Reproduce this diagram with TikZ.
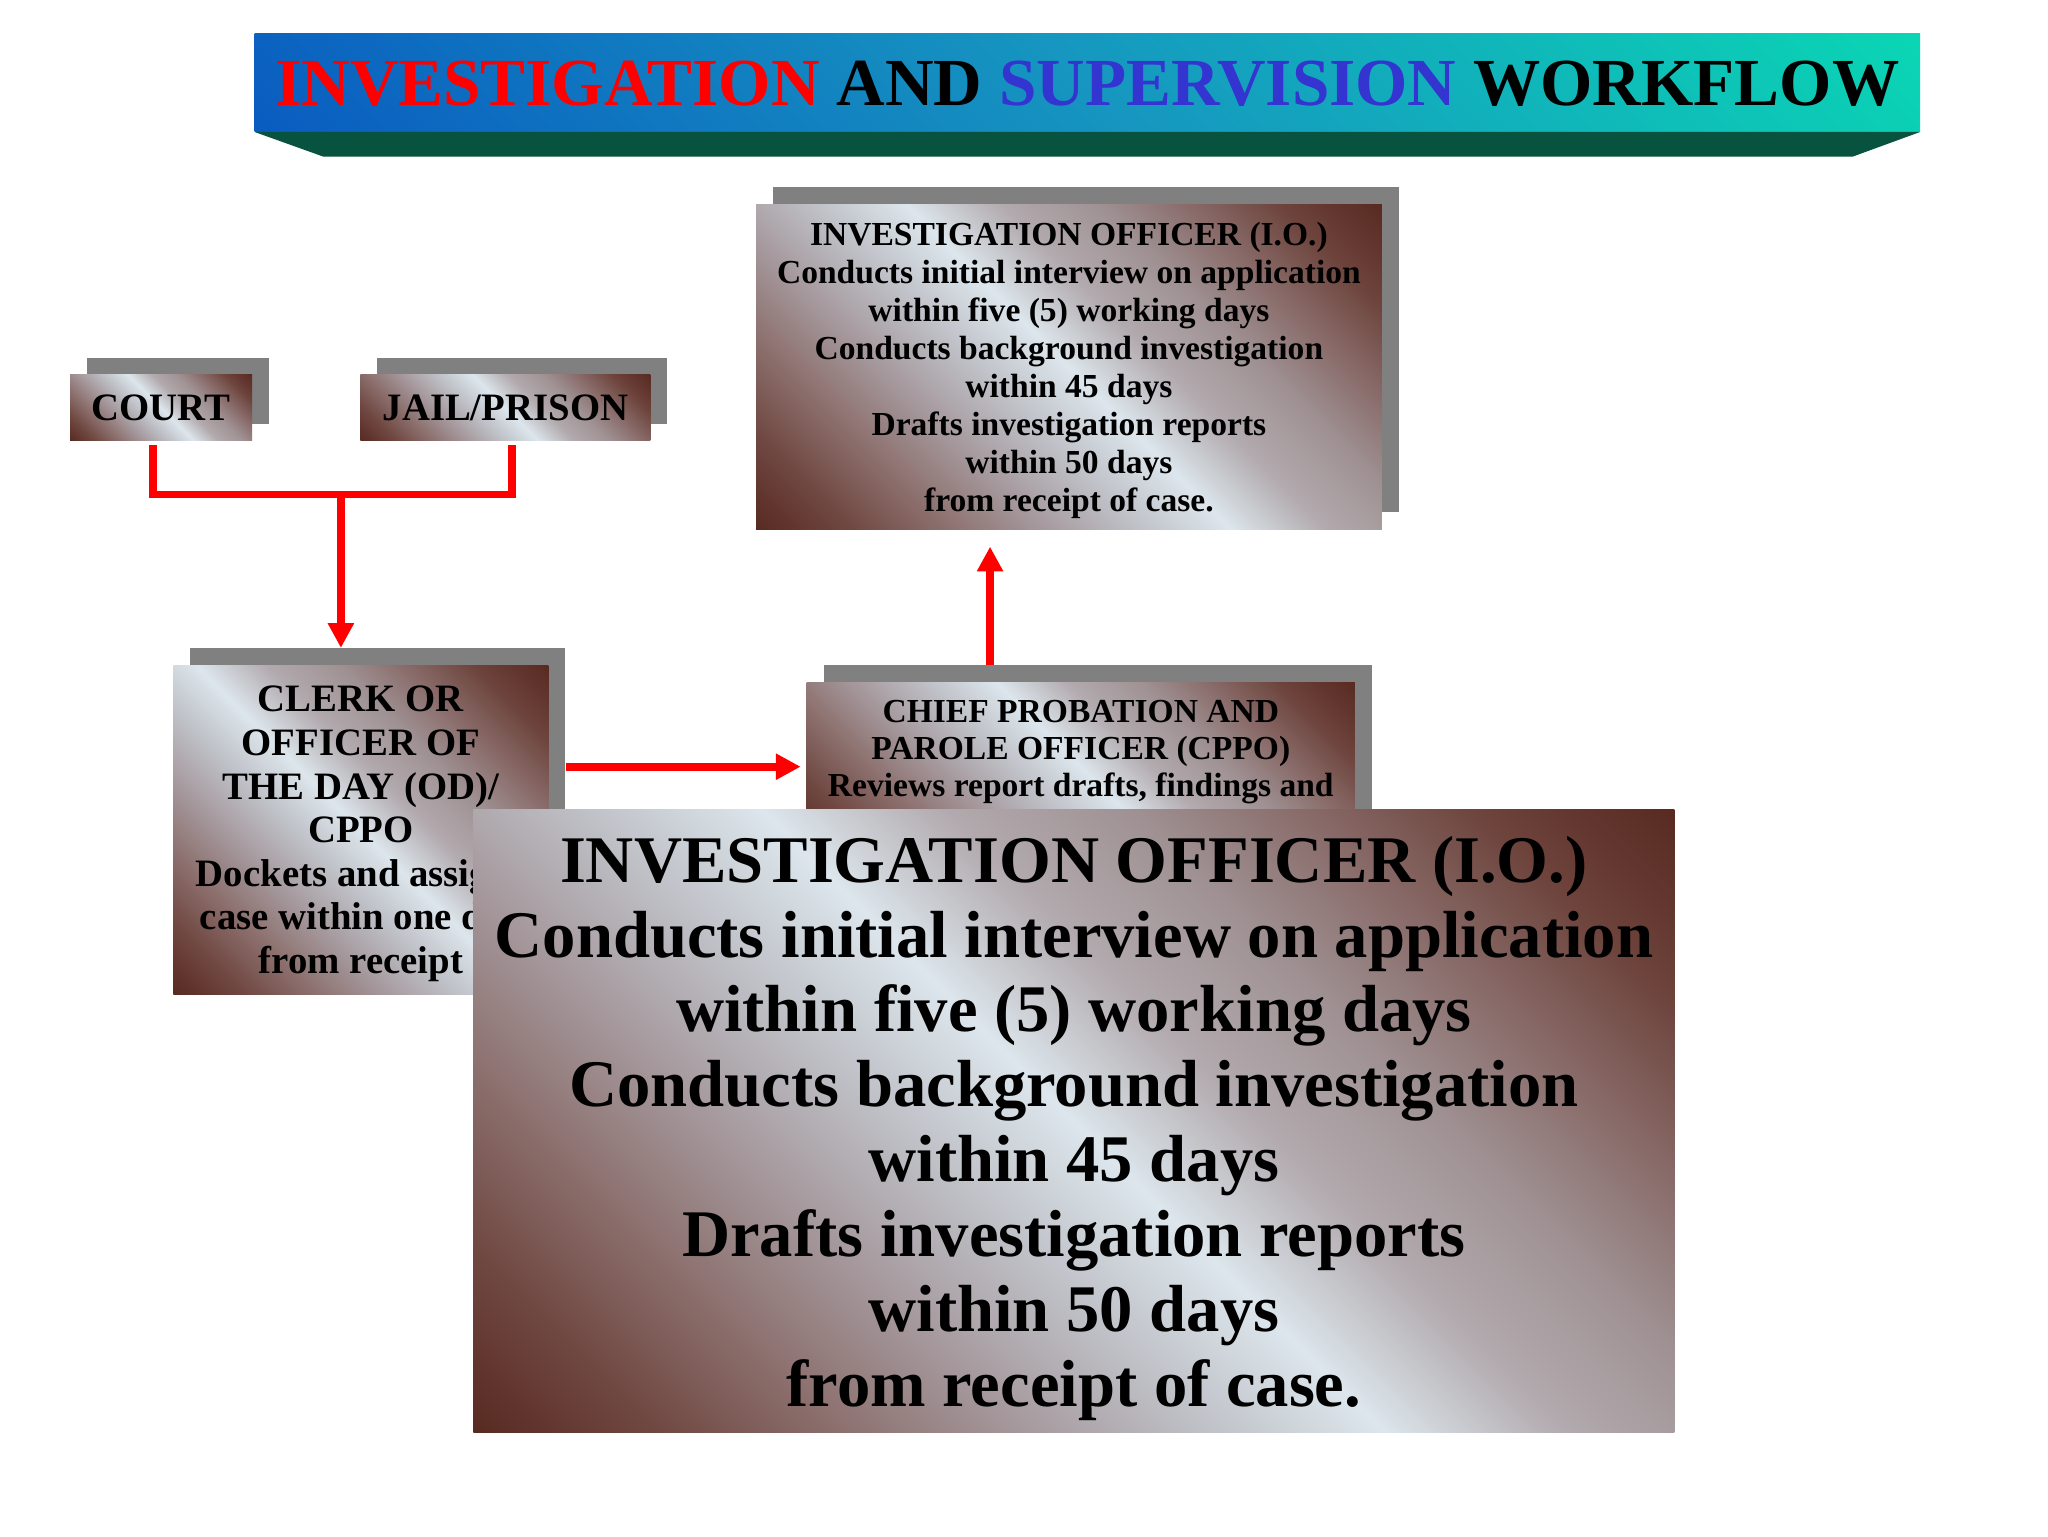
\documentclass[tikz,border=0pt]{standalone}
\usepackage{fontspec}
\setmainfont{Liberation Serif}
\usepackage{xcolor}
\usepackage{tikz}
\usetikzlibrary{arrows.meta}
\usetikzlibrary{shadows,positioning}

\definecolor{boxshadow}{RGB}{128,128,128}
\definecolor{metaldark}{RGB}{88,42,34}
\definecolor{metalbrown}{RGB}{112,72,66}
\definecolor{metalrose}{RGB}{140,112,110}
\definecolor{metalmauve}{RGB}{165,152,156}
\definecolor{metalgrey}{RGB}{190,192,198}
\definecolor{metallight}{RGB}{220,230,236}
\definecolor{metalpale}{RGB}{178,170,174}
\definecolor{metaldusk}{RGB}{160,146,148}
\definecolor{metalclay}{RGB}{136,106,104}
\definecolor{metalrust}{RGB}{108,66,58}
\definecolor{seablue}{RGB}{10,92,192}
\definecolor{seamid}{RGB}{22,150,192}
\definecolor{seateal}{RGB}{10,214,180}
\definecolor{seabase}{RGB}{8,82,64}
\definecolor{wordred}{RGB}{255,0,0}
\definecolor{wordblue}{RGB}{52,52,208}

\pgfdeclarehorizontalshading{metal}{100bp}{color(0bp)=(metaldark); color(14.6bp)=(metaldark); color(21.7bp)=(metalbrown); color(28.8bp)=(metalrose); color(35.8bp)=(metalmauve); color(42.9bp)=(metalgrey); color(50bp)=(metallight); color(57.1bp)=(metalpale); color(64.2bp)=(metaldusk); color(71.2bp)=(metalclay); color(78.3bp)=(metalrust); color(85.4bp)=(metaldark); color(100bp)=(metaldark)}
\pgfdeclarehorizontalshading{sea}{100bp}{color(0bp)=(seablue); color(14.6bp)=(seablue); color(50bp)=(seamid); color(85.4bp)=(seateal); color(100bp)=(seateal)}

\newcommand{\wftitlefont}{\bfseries\fontsize{51.5pt}{60pt}\selectfont}
\newcommand{\wfplatefont}{\bfseries\fontsize{29.7pt}{33.4pt}\selectfont}
\newcommand{\wfnotefont}{\bfseries\fontsize{25.7pt}{29pt}\selectfont}
\newcommand{\wfcppofont}{\bfseries\fontsize{25.7pt}{28.1pt}\selectfont}
\newcommand{\wfbigfont}{\bfseries\fontsize{51pt}{57.4pt}\selectfont}

\tikzset{
  plate/.style={shade, shading=metal, shading angle=45, inner sep=0pt,
    align=center, text depth=0pt},
  plateshadow/.style={drop shadow={shadow xshift=13pt, shadow yshift=13pt,
    opacity=1, fill=boxshadow}},
  link/.style={draw=red, line width=6pt},
  flow/.style={link, -{Triangle[length=19pt, width=19pt]}}
}

\begin{document}
\begin{tikzpicture}[x=1pt, y=-1pt]
\fill[white] (0,0) rectangle (1568,1176);
\useasboundingbox (0,0) rectangle (1568,1176);

\node (title-bar) [shade, shading=sea, shading angle=45, inner sep=0pt,
    minimum width=1275pt, minimum height=74.8pt, text depth=0pt,
    font=\wftitlefont] at (832.5,63.4)
    {\textcolor{wordred}{INVESTIGATION} AND \textcolor{wordblue}{SUPERVISION} WORKFLOW};
\fill[seabase] (title-bar.south west) -- (title-bar.south east)
    -- ([xshift=-52pt,yshift=-19pt]title-bar.south east)
    -- ([xshift=53pt,yshift=-19pt]title-bar.south west) -- cycle;

 \begin{scope}[]
\node (court-box) [plate, plateshadow, font=\wfplatefont,
    minimum width=139.4pt, minimum height=50.4pt] at (123.3,312.2) {COURT};
\node (jail-box) [plate, plateshadow, font=\wfplatefont,
    minimum width=222pt, minimum height=50.4pt] at (387,312.2) {JAIL/PRISON};
\end{scope}

\node (io-note) [plate, plateshadow, font=\wfnotefont,
    minimum width=479pt, minimum height=248.8pt] at (818.4,280.9)
    {INVESTIGATION OFFICER (I.O.)\\
     Conducts initial interview on application\\
     within five (5) working days\\
     Conducts background investigation\\
     within 45 days\\
     Drafts investigation reports\\
     within 50 days\\
     from receipt of case.};

\node (clerk-box) [plate, plateshadow, font=\wfplatefont,
    minimum width=287.1pt, minimum height=252.1pt] at (276.3,635.3)
    {CLERK OR\\
     OFFICER OF\\
     THE DAY (OD)/\\
     CPPO\\
     Dockets and assigns\\
     case within one day\\
     from receipt};

\node (cppo-box) [plate, plateshadow, font=\wfcppofont,
    minimum width=419.8pt, minimum height=129.6pt] at (827.5,587)
    {CHIEF PROBATION AND\\
     PAROLE OFFICER (CPPO)\\
     Reviews report drafts, findings and\\
     \mbox{}};

\coordinate (court-out) at ([xshift=-6pt,yshift=-3pt]court-box.south);
\coordinate (jail-out) at ([xshift=5pt,yshift=-3pt]jail-box.south);
\coordinate (join) at (261,378.6);
\coordinate (clerk-top) at ([yshift=13pt]clerk-box.north);
\coordinate (clerk-out) at ([xshift=13pt]clerk-box.east |- cppo-box.west);
\coordinate (cppo-top) at ([xshift=-69.5pt,yshift=13pt]cppo-box.north);
\coordinate (io-gap) at ([yshift=-13pt]io-note.south);

\draw[link] (court-out) -- (court-out |- join) -| (jail-out);
\draw[flow] (join) -- (join |- clerk-top);
\draw[flow] (clerk-out) -- ([xshift=-4.4pt]cppo-box.west);
\draw[flow] (cppo-top) -- (cppo-top |- io-gap);

\node (io-box) [plate, font=\wfbigfont,
    minimum width=919.5pt, minimum height=477pt] at (822.2,858.5)
    {INVESTIGATION OFFICER (I.O.)\\
     Conducts initial interview on application\\
     within five (5) working days\\
     Conducts background investigation\\
     within 45 days\\
     Drafts investigation reports\\
     within 50 days\\
     from receipt of case.};
\end{tikzpicture}
\end{document}
